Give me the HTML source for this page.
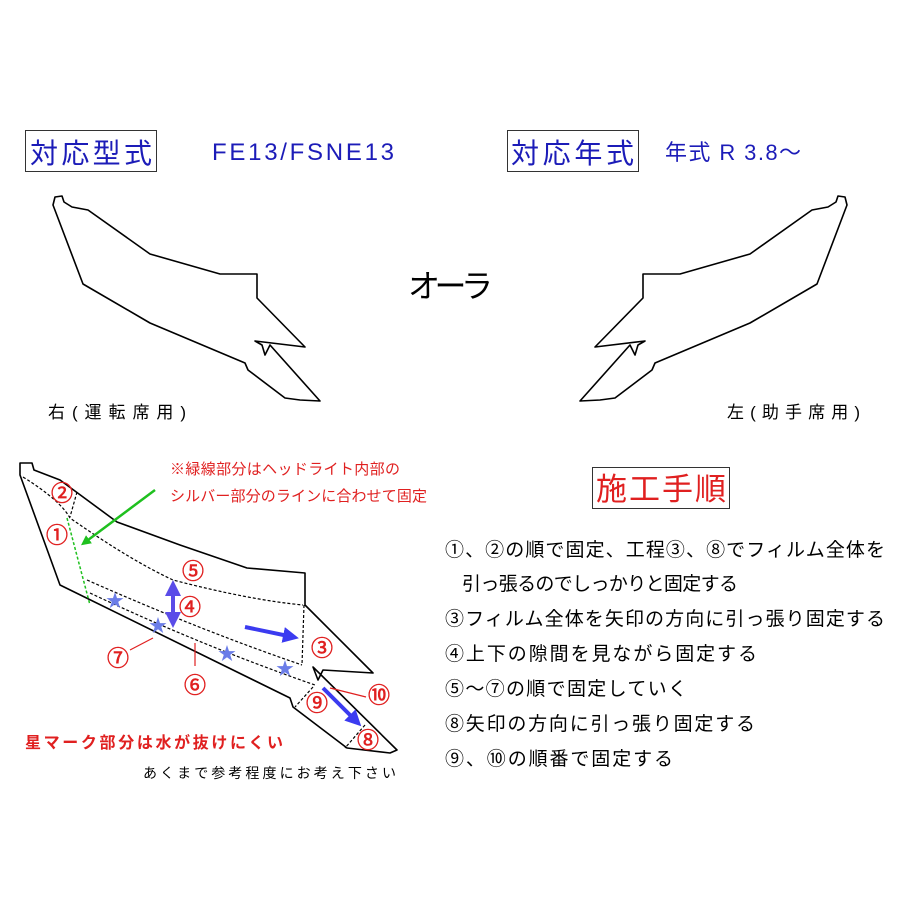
<!DOCTYPE html>
<html><head><meta charset="utf-8"><style>html,body{margin:0;padding:0;background:#fff}svg{display:block}</style></head>
<body>
<svg width="900" height="900" viewBox="0 0 900 900" xmlns="http://www.w3.org/2000/svg" font-family="'Liberation Sans','Noto Sans CJK JP',sans-serif">
<defs>
<marker id="ab" markerWidth="4" markerHeight="4" refX="2.5" refY="2" orient="auto"><path d="M0,0 L4,2 L0,4 Z" fill="#3b3bf0"/></marker>
<marker id="abs" markerWidth="4" markerHeight="4" refX="1.5" refY="2" orient="auto-start-reverse"><path d="M0,0 L4,2 L0,4 Z" fill="#5a4ce8"/></marker>
<marker id="ag" markerWidth="4" markerHeight="4" refX="2.5" refY="2" orient="auto"><path d="M0,0 L4,2 L0,4 Z" fill="#1fc01f"/></marker>
</defs>
<rect x="25.5" y="130.5" width="131" height="41" fill="none" stroke="#333" stroke-width="1"/>
<text x="30" y="163" font-size="28" fill="#1c1cb8" textLength="122">対応型式</text>
<text x="212" y="160" font-size="24" fill="#1c1cb8" textLength="182">FE13/FSNE13</text>
<rect x="507.5" y="130.5" width="131" height="41" fill="none" stroke="#333" stroke-width="1"/>
<text x="511" y="163" font-size="28" fill="#1c1cb8" textLength="123">対応年式</text>
<text x="665" y="160" font-size="22" fill="#1c1cb8" textLength="136">年式 R 3.8～</text>
<text x="408" y="297" font-size="32" fill="#000" textLength="85">オーラ</text>
<g fill="none" stroke="#000" stroke-width="1.6" stroke-linejoin="round">
<path id="p1" d="M55,197 L62,196 L64,202 L72,207 L88,210 L150,254 L220,274 L257,274 L257,298 L305,347 L255,341 L262,345 L265,355 L270,345 L320,401 L300,400 L285,398 L248,370 L245,363 L150,323 L83,284 L53,205 Z"/>
<use href="#p1" transform="translate(900,0) scale(-1,1)"/>
</g>
<text x="48" y="418" font-size="17" textLength="138">右(運転席用)</text>
<text x="727" y="418" font-size="17" textLength="133">左(助手席用)</text>
<g fill="none" stroke="#000" stroke-width="1.6" stroke-linejoin="round">
<path d="M20,463 L32,463 L34,470 L60,480 L117,522 L180,545 L247,568 L305,573 L305,605 L373,673 L323,670 L318,680 L313,667 L397,750 L390,753 L347,748 L293,707 L290,698 L60,585 L20,475 Z"/>
</g>
<g fill="none" stroke="#000" stroke-width="1.2" stroke-dasharray="3,2">
<path d="M23,477 Q60,500 70,518 Q130,560 173,580 Q250,600 303,605"/>
<path d="M87,580 Q200,630 302,665"/>
<path d="M90,593 Q200,645 315,685"/>
<path d="M304,605 L302,665"/>
<path d="M77,492 L70,517"/>
<path d="M313,687 L295,707"/>
<path d="M365,725 L345,748"/>
</g>
<path d="M67,518 L90,605" stroke="#1fc01f" stroke-width="1.5" stroke-dasharray="3,2" fill="none"/>
<line x1="155" y1="490" x2="84" y2="543" stroke="#1fc01f" stroke-width="2.5" marker-end="url(#ag)"/>
<line x1="173" y1="590" x2="173" y2="618" stroke="#5a4ce8" stroke-width="4" marker-start="url(#abs)" marker-end="url(#abs)"/>
<line x1="245" y1="627" x2="293" y2="637" stroke="#3b3bf0" stroke-width="4" marker-end="url(#ab)"/>
<line x1="323" y1="688" x2="357" y2="722" stroke="#3b3bf0" stroke-width="4" marker-end="url(#ab)"/>
<g fill="#6b7de8" font-size="18" text-anchor="middle">
<text x="115" y="607">★</text><text x="158" y="632">★</text><text x="227" y="660">★</text><text x="285" y="675">★</text>
</g>
<g stroke="#e02020" stroke-width="1.2">
<line x1="130" y1="650" x2="153" y2="638"/><line x1="195" y1="643" x2="195" y2="666"/><line x1="330" y1="688" x2="366" y2="697"/>
</g>
<g fill="#e02020" stroke="#e02020" stroke-width="0.6" font-size="22" text-anchor="middle">
<text x="62" y="501">②</text><text x="57" y="543">①</text><text x="193" y="579">⑤</text><text x="190" y="615">④</text>
<text x="322" y="656">③</text><text x="118" y="666">⑦</text><text x="195" y="693">⑥</text><text x="379" y="703">⑩</text>
<text x="317" y="711">⑨</text><text x="368" y="748">⑧</text>
</g>
<text x="170" y="474" font-size="15" fill="#e02020" textLength="230">※緑線部分はヘッドライト内部の</text>
<text x="170" y="501" font-size="15" fill="#e02020" textLength="257">シルバー部分のラインに合わせて固定</text>
<text x="25" y="748" font-size="16" font-weight="bold" fill="#e02020" textLength="258">星マーク部分は水が抜けにくい</text>
<text x="143" y="778" font-size="14" fill="#000" textLength="253">あくまで参考程度にお考え下さい</text>
<rect x="592.5" y="467.5" width="137" height="41" fill="none" stroke="#333" stroke-width="1"/>
<text x="596" y="500" font-size="31" fill="#e02020" textLength="130">施工手順</text>
<g font-size="19" fill="#000">
<text x="445" y="556" textLength="440">①、②の順で固定、工程③、⑧でフィルム全体を</text>
<text x="462" y="590" textLength="276">引っ張るのでしっかりと固定する</text>
<text x="445" y="625" textLength="440">③フィルム全体を矢印の方向に引っ張り固定する</text>
<text x="445" y="660" textLength="312">④上下の隙間を見ながら固定する</text>
<text x="445" y="695" textLength="242">⑤～⑦の順で固定していく</text>
<text x="445" y="730" textLength="310">⑧矢印の方向に引っ張り固定する</text>
<text x="445" y="765" textLength="228">⑨、⑩の順番で固定する</text>
</g>
</svg>
</body></html>
